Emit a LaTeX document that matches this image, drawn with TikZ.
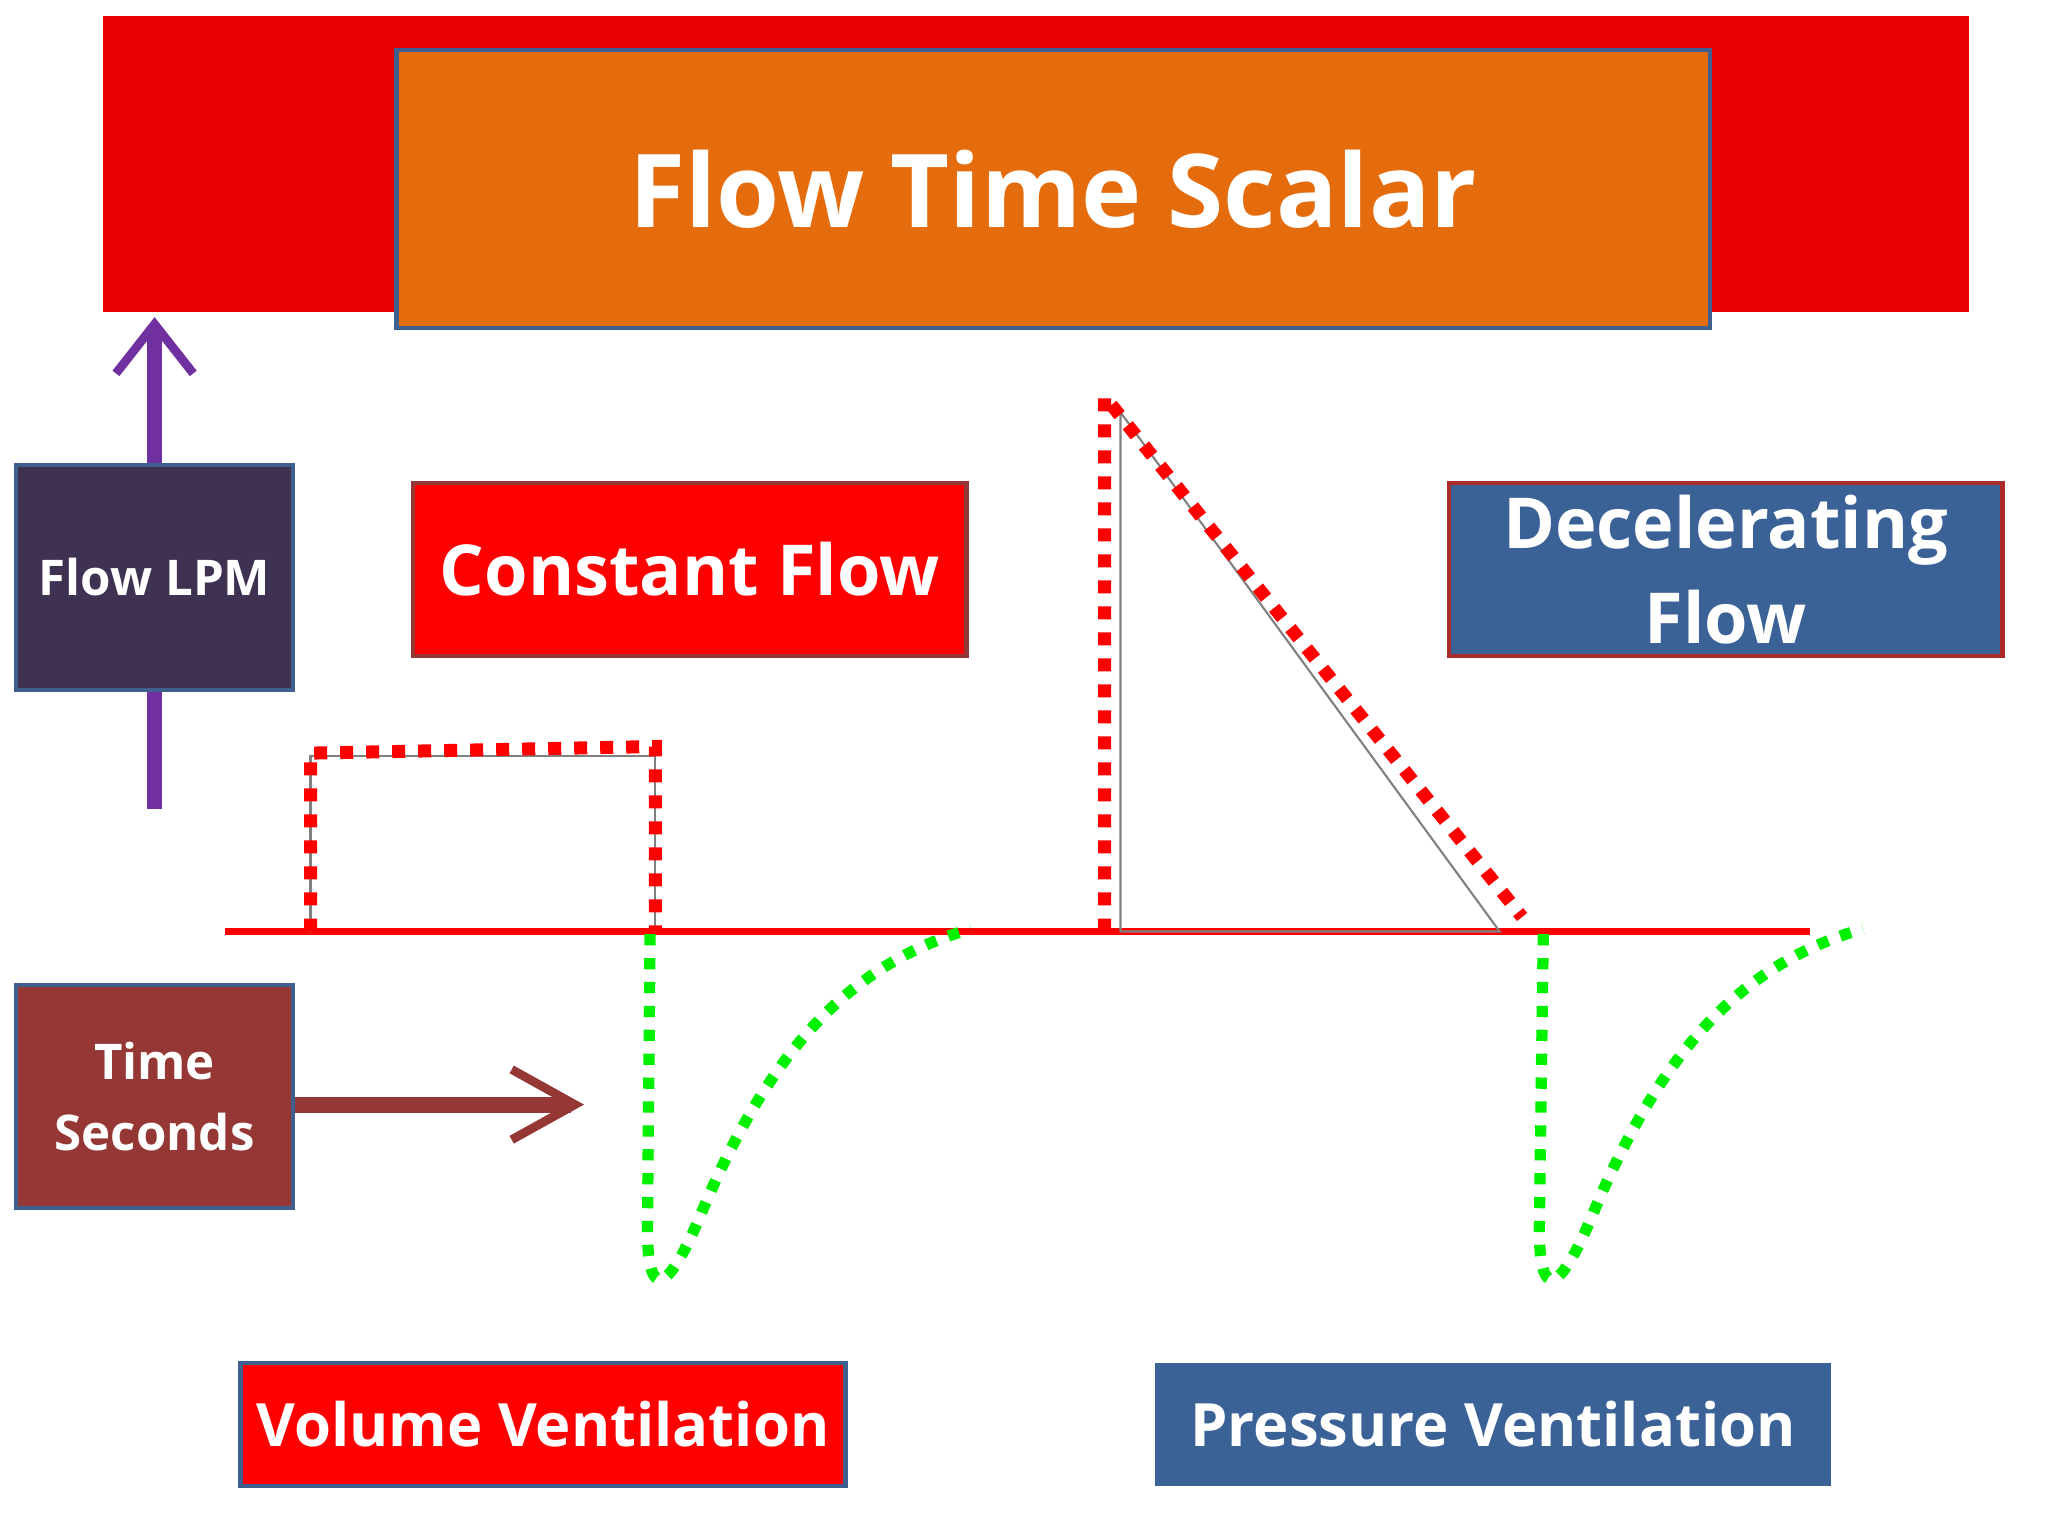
\documentclass[tikz,border=0pt]{standalone}
\usepackage{fontspec}
\setmainfont{Open Sans}
\usetikzlibrary{arrows.meta}
\definecolor{bandred}{HTML}{E80000}
\definecolor{orng}{HTML}{E46C0D}
\definecolor{bord}{HTML}{3F5F8F}
\definecolor{purp}{HTML}{3F3151}
\definecolor{brn}{HTML}{953735}
\definecolor{blu}{HTML}{3B6296}
\definecolor{purpar}{HTML}{7030A0}
\definecolor{grn}{HTML}{00F000}
\begin{document}
\begin{tikzpicture}[x=0.013213cm,y=-0.013213cm,
  box/.style={draw=bord,line width=1.2pt,text=white,font=\bfseries,align=center,inner sep=0},
  reddot/.style={draw=red,line width=3.7pt,dash pattern=on 3.7pt off 3.7pt},
  grndot/.style={draw=grn,line width=3.2pt,dash pattern=on 3.2pt off 3.6pt},
  thin/.style={draw=gray,line width=0.6pt}]
\useasboundingbox (0,0) rectangle (1550,1162);
\fill[bandred] (78,12) rectangle (1490,236);
\node[box,fill=orng,minimum width=994*0.13213mm,minimum height=210*0.13213mm,font=\bfseries\fontsize{29}{34}\selectfont] (fts) at (797,143) {Flow Time Scalar};
% purple arrow
\coordinate (pa) at (117,612); \coordinate (pb) at (117,240);
\draw[purpar,line width=4.5pt,-{Straight Barb[length=14pt,width=22pt,line width=2.5pt]}] (pa) -- (pb);
\node[box,fill=purp,minimum width=210*0.13213mm,minimum height=170*0.13213mm,font=\bfseries\fontsize{14}{17}\selectfont] (lpm) at (117,437) {Flow LPM};
\node[box,draw=brn,fill=red,minimum width=419*0.13213mm,minimum height=131*0.13213mm,font=\bfseries\fontsize{20}{24}\selectfont] (cf) at (522,431) {Constant Flow};
\node[box,draw=brn!80!red,fill=blu,minimum width=419*0.13213mm,minimum height=131*0.13213mm,font=\bfseries\fontsize{20}{27}\selectfont] (df) at (1306,431) {Decelerating\\ Flow};
\node[box,fill=brn,minimum width=210*0.13213mm,minimum height=169*0.13213mm,font=\bfseries\fontsize{14}{20}\selectfont] (ts) at (117,830) {Time\\Seconds};
\coordinate (tsend) at (442,836);
\draw[brn,line width=4.5pt,-{Straight Barb[length=18pt,width=20pt,line width=2.5pt]}] (ts.east|-tsend) -- (tsend);
% baseline
\coordinate (b0) at (170,705); \coordinate (b1) at (1370,705);
\draw[red,line width=1.8pt] (b0) -- (b1);
% square wave
\draw[thin] (235,705) -- (235,572) -- (496,572) -- (496,705);
\draw[reddot] (235,705) -- (235,570) -- (496,565) -- (496,705);
% triangle
\draw[thin] (848,705) -- (848,312) -- (1135,705) -- cycle;
\draw[reddot] (836,705) -- (836,300) -- (1152,694);
% green curves
\draw[grndot] (492,707) -- (490,930) .. controls (490,985) and (505,980) .. (530,920) .. controls (580,800) and (640,730) .. (735,703);
\draw[grndot] (1168,707) -- (1165,930) .. controls (1165,985) and (1180,980) .. (1205,920) .. controls (1255,800) and (1315,730) .. (1410,703);
\node[box,fill=red,minimum width=458*0.13213mm,minimum height=93*0.13213mm,font=\bfseries\fontsize{17}{20}\selectfont] (vv) at (411,1078) {Volume Ventilation};
\node[box,draw=none,fill=blu,minimum width=512*0.13213mm,minimum height=93*0.13213mm,font=\bfseries\fontsize{17}{20}\selectfont] (pv) at (1130,1078) {Pressure Ventilation};
\end{tikzpicture}
\end{document}
